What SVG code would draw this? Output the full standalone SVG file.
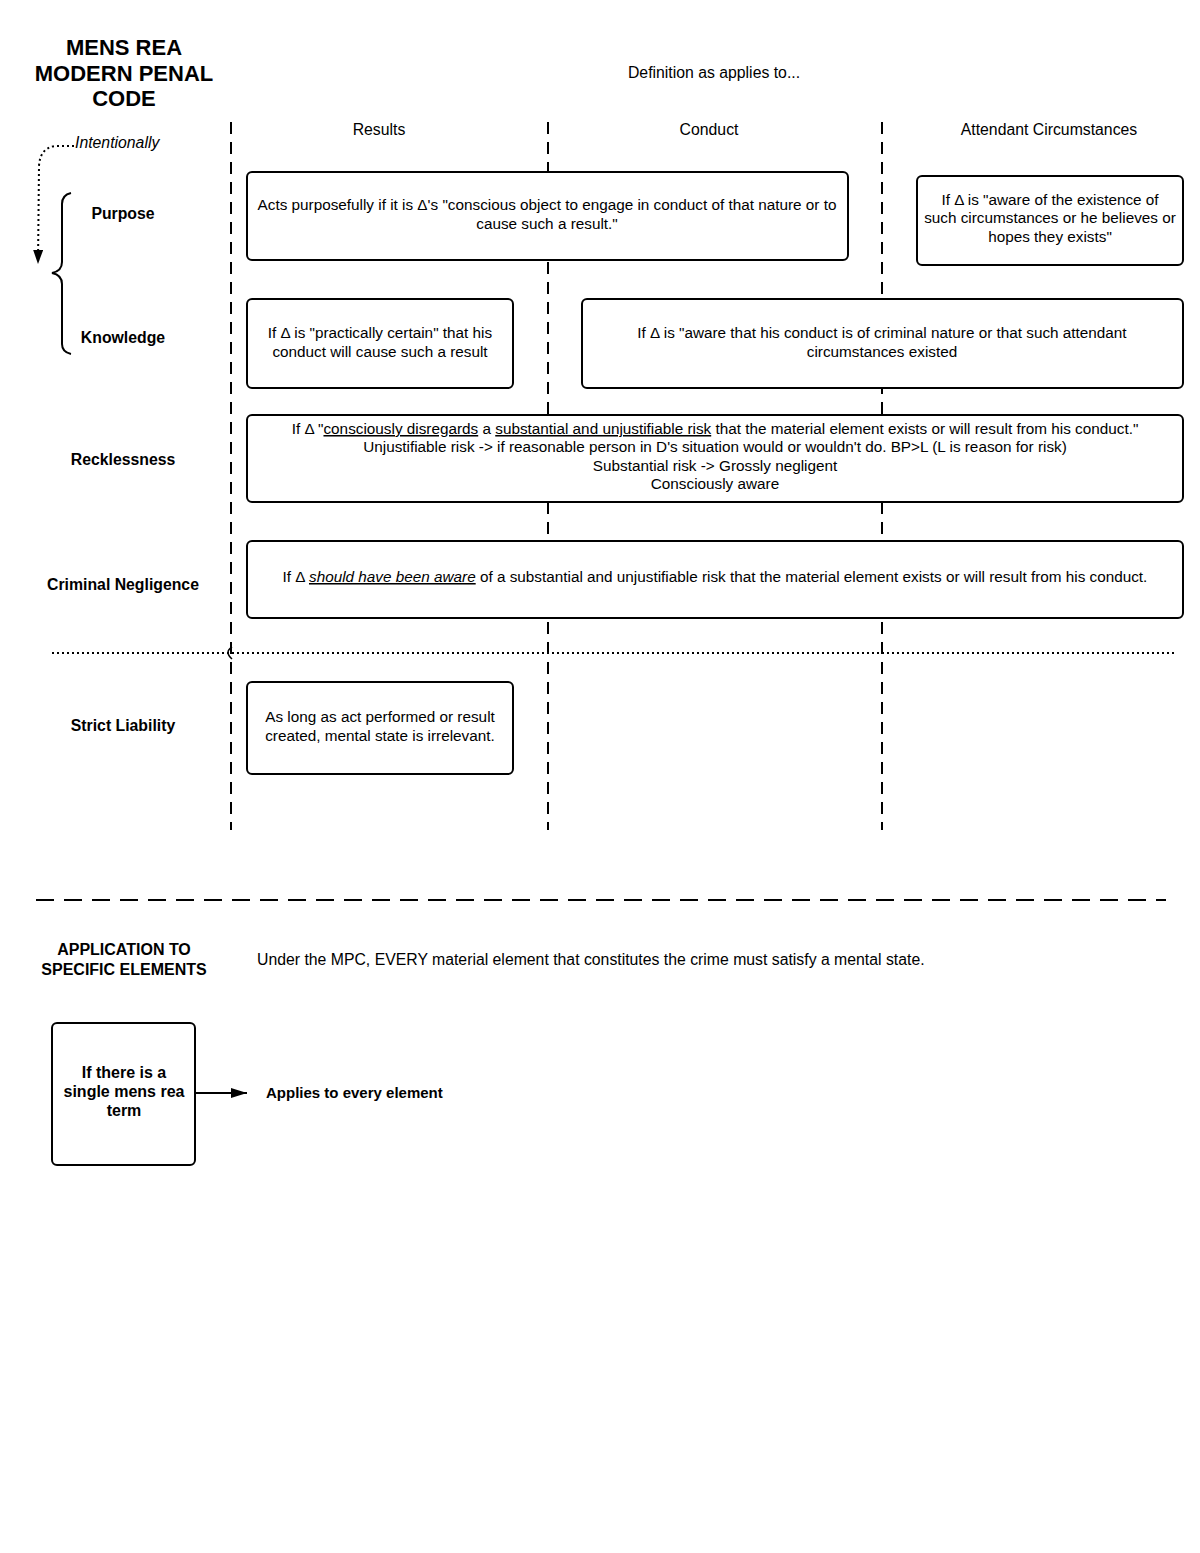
<svg xmlns="http://www.w3.org/2000/svg" width="1200" height="1553" viewBox="0 0 1200 1553">
<style>
text{font-family:"Liberation Sans",Arial,Helvetica,sans-serif;fill:#000}
.title{font-size:22px;font-weight:bold;text-anchor:middle}
.lbl{font-size:15.8px;font-weight:bold;text-anchor:middle}
.app{font-size:16px;font-weight:bold;text-anchor:middle}
.hdr{font-size:15.8px;text-anchor:middle}
.bx{font-size:15.3px;text-anchor:middle}
.box{fill:#fff;stroke:#000;stroke-width:2}
.vd{stroke:#000;stroke-width:2;stroke-dasharray:12 8;fill:none}
.dot{stroke:#000;stroke-width:2;stroke-dasharray:2 3;fill:none}
</style>
<defs>
<marker id="ah" viewBox="0 0 14 10" refX="14" refY="5" markerWidth="14" markerHeight="10" markerUnits="userSpaceOnUse" orient="auto">
<path d="M0,0 L14,5 L0,10 z" fill="#000"/>
</marker>
<marker id="ah2" viewBox="0 0 16 10" refX="16" refY="5" markerWidth="16" markerHeight="10" markerUnits="userSpaceOnUse" orient="auto">
<path d="M0,0 L16,5 L0,10 z" fill="#000"/>
</marker>
</defs>
<rect width="1200" height="1553" fill="#fff"/>

<g id="title">
<text class="title" x="124" y="55">MENS REA</text>
<text class="title" x="124" y="81">MODERN PENAL</text>
<text class="title" x="124" y="106">CODE</text>
</g>
<g id="header">
<text class="hdr" x="714" y="78">Definition as applies to...</text>
<text class="hdr" x="379" y="135">Results</text>
<text class="hdr" x="709" y="135">Conduct</text>
<text class="hdr" x="1049" y="135">Attendant Circumstances</text>
</g>

<g id="connectors">
<line class="vd" x1="231" y1="122" x2="231" y2="830"/>
<line class="vd" x1="548" y1="122" x2="548" y2="830"/>
<line class="vd" x1="882" y1="122" x2="882" y2="830"/>
<line class="dot" x1="52" y1="653" x2="1176" y2="653"/>
<path d="M232,647 Q224,652 232,659" fill="none" stroke="#000" stroke-width="1.5"/>
<line x1="36" y1="900" x2="1166" y2="900" stroke="#000" stroke-width="2" stroke-dasharray="18 10"/>
<path class="dot" d="M74,146 L55,146 Q40,148 39,166 L38,264" marker-end="url(#ah)"/>
<path d="M71,193 Q62,195 62,204 L62,262 Q62,271 52,273 Q62,275 62,284 L62,344 Q62,352 71,354" fill="none" stroke="#000" stroke-width="2"/>
<line x1="195" y1="1093" x2="247" y2="1093" stroke="#000" stroke-width="2" marker-end="url(#ah2)"/>
</g>

<g id="intentionally">
<text x="75" y="148" style="font-size:15.8px;font-style:italic">Intentionally</text>
</g>

<g id="labels">
<text class="lbl" x="123" y="219">Purpose</text>
<text class="lbl" x="123" y="343">Knowledge</text>
<text class="lbl" x="123" y="465">Recklessness</text>
<text class="lbl" x="123" y="590">Criminal Negligence</text>
<text class="lbl" x="123" y="731">Strict Liability</text>
</g>

<g id="purpose-results-conduct">
<rect class="box" x="247" y="172" width="601" height="88" rx="5"/>
<text class="bx" x="547" y="210">Acts purposefully if it is Δ's "conscious object to engage in conduct of that nature or to</text>
<text class="bx" x="547" y="229">cause such a result."</text>
</g>
<g id="purpose-attendant">
<rect class="box" x="917" y="176" width="266" height="89" rx="5"/>
<text class="bx" x="1050" y="205">If Δ  is "aware of the existence of</text>
<text class="bx" x="1050" y="223">such circumstances or he believes or</text>
<text class="bx" x="1050" y="242">hopes they exists"</text>
</g>
<g id="knowledge-results">
<rect class="box" x="247" y="299" width="266" height="89" rx="5"/>
<text class="bx" x="380" y="338">If Δ is "practically certain" that his</text>
<text class="bx" x="380" y="357">conduct will cause such a result</text>
</g>
<g id="knowledge-conduct">
<rect class="box" x="582" y="299" width="601" height="89" rx="5"/>
<text class="bx" x="882" y="338">If Δ  is "aware that his conduct is of criminal nature or that such attendant</text>
<text class="bx" x="882" y="357">circumstances existed</text>
</g>
<g id="recklessness">
<rect class="box" x="247" y="415" width="936" height="87" rx="5"/>
<text class="bx" x="715" y="434">If Δ "<tspan text-decoration="underline">consciously disregards</tspan> a <tspan text-decoration="underline">substantial and unjustifiable risk</tspan> that the material element exists or will result from his conduct."</text>
<text class="bx" x="715" y="452">Unjustifiable risk -&gt; if reasonable person in D's situation would or wouldn't do. BP&gt;L (L is reason for risk)</text>
<text class="bx" x="715" y="471">Substantial risk -&gt; Grossly negligent</text>
<text class="bx" x="715" y="489">Consciously aware</text>
</g>
<g id="negligence">
<rect class="box" x="247" y="541" width="936" height="77" rx="5"/>
<text class="bx" x="715" y="582">If Δ <tspan text-decoration="underline" font-style="italic">should have been aware</tspan> of a substantial and unjustifiable risk that the material element exists or will result from his conduct.</text>
</g>
<g id="strict">
<rect class="box" x="247" y="682" width="266" height="92" rx="5"/>
<text class="bx" x="380" y="722">As long as act performed or result</text>
<text class="bx" x="380" y="741">created, mental state is irrelevant.</text>
</g>

<g id="application">
<text class="app" x="124" y="955">APPLICATION TO</text>
<text class="app" x="124" y="975">SPECIFIC ELEMENTS</text>
<text x="257" y="965" style="font-size:15.8px">Under the MPC, EVERY material element that constitutes the crime must satisfy a mental state.</text>
</g>
<g id="single-term">
<rect class="box" x="52" y="1023" width="143" height="142" rx="5"/>
<text class="app" x="124" y="1078">If there is a</text>
<text class="app" x="124" y="1097">single mens rea</text>
<text class="app" x="124" y="1116">term</text>
</g>
<g id="applies">
<text x="266" y="1098" style="font-size:15px;font-weight:bold">Applies to every element</text>
</g>
</svg>
